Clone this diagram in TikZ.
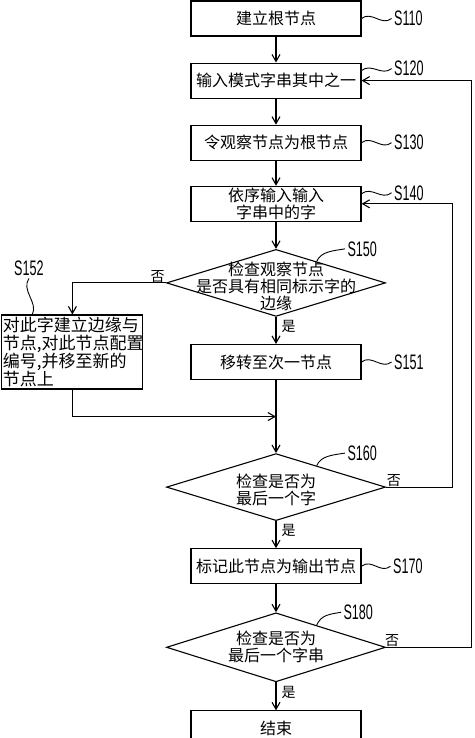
\documentclass[tikz,border=0pt]{standalone}
\usepackage{fontspec}
\setmainfont{Noto Sans CJK SC}
\newfontfamily\steplabelfont[FakeStretch=0.6]{Liberation Sans}
\usetikzlibrary{
  positioning,
  shapes.geometric,
  arrows.meta,
  calc
}

\begin{document}
\begin{tikzpicture}[
  node distance=27pt,
  line width=1.1pt,
  stepbox/.style={draw, rectangle, minimum width=170pt, minimum height=35pt, inner xsep=2pt, inner ysep=1pt, align=center, font=\fontsize{16}{17}\selectfont},
  check/.style={draw, diamond, minimum width=219pt, minimum height=67pt, inner sep=0pt},
  checktext/.style={align=center, inner sep=0pt, font=\fontsize{16}{17}\selectfont},
  steplabel/.style={inner sep=2pt, font=\fontsize{21}{21}\steplabelfont},
  tilde/.style={line width=0.9pt},
  yeslbl/.style={right=5pt, inner sep=0pt, font=\fontsize{14}{14}\selectfont},
  nolbl/.style={above, inner sep=0pt, font=\fontsize{14}{14}\selectfont},
  arrow/.style={-{Straight Barb[length=7pt, width=8pt]}}
]
\useasboundingbox (0,0) rectangle (474pt,-738pt);

% Steps
\node[stepbox] (s110) at (276pt,-18.5pt) {建立根节点};
\node[stepbox, below=26pt of s110] (s120) {输入模式字串其中之一};
\node[stepbox, below=26pt of s120] (s130) {令观察节点为根节点};
\node[stepbox, below=25pt of s130] (s140) {依序输入输入\\字串中的字};
\node[check, below=of s140, label={[checktext, yshift=-3pt]center:检查观察节点\\是否具有相同标示字的\\边缘}] (s150) {};
\node[stepbox, below=of s150] (s151) {移转至次一节点};
\node[stepbox, left=47pt of s151, yshift=10pt, minimum width=141pt, minimum height=74pt, inner xsep=1pt, text width=139pt, align=left, font=\fontsize{17}{18}\selectfont] (s152) {对此字建立边缘与\\节点,对此节点配置\\编号,并移至新的\\节点上};
\node[check, below=73pt of s151, label={[checktext, yshift=-3pt]center:检查是否为\\最后一个字}] (s160) {};
\node[stepbox, below=of s160] (s170) {标记此节点为输出节点};
\node[check, below=28pt of s170, minimum height=69pt, label={[checktext]center:检查是否为\\最后一个字串}] (s180) {};
\node[stepbox, below=28pt of s180] (finish) {结束};

% Step labels
\node[steplabel, right=30pt of s110] (l110) {S110};
\node[steplabel, right=30pt of s120, yshift=12pt] (l120) {S120};
\node[steplabel, right=30pt of s130] (l130) {S130};
\node[steplabel, right=30pt of s140, yshift=11pt] (l140) {S140};
\node[steplabel, right=69pt of s150.north] (l150) {S150};
\node[steplabel, right=30pt of s151] (l151) {S151};
\node[steplabel, above=36pt of s152, xshift=-43.5pt] (l152) {S152};
\node[steplabel, right=69pt of s160.north] (l160) {S160};
\node[steplabel, right=29pt of s170] (l170) {S170};
\node[steplabel, right=65pt of s180.north] (l180) {S180};

\draw[tilde] (s110.east) .. controls +(10pt,8pt) and +(-10pt,-8pt) .. (l110.west);
\draw[tilde] ([yshift=-8pt]s120.north east) .. controls +(10pt,8pt) and +(-10pt,-8pt) .. (l120.west);
\draw[tilde] (s130.east) .. controls +(10pt,8pt) and +(-10pt,-8pt) .. (l130.west);
\draw[tilde] ([yshift=-8pt]s140.north east) .. controls +(10pt,8pt) and +(-10pt,-8pt) .. (l140.west);
\draw[tilde] ($(s150.north)!0.37!(s150.east)$) .. controls +(4pt,10pt) and +(-12pt,-2pt) .. (l150.west);
\draw[tilde] (s151.east) .. controls +(10pt,8pt) and +(-10pt,-8pt) .. (l151.west);
\draw[tilde] (l152.south) .. controls +(-8pt,-12pt) and +(6pt,12pt) .. ($(s152.north west)+(31pt,0)$);
\draw[tilde] ($(s160.north)!0.37!(s160.east)$) .. controls +(4pt,10pt) and +(-12pt,-2pt) .. (l160.west);
\draw[tilde] (s170.east) .. controls +(10pt,8pt) and +(-10pt,-8pt) .. (l170.west);
\draw[tilde] ($(s180.north)!0.37!(s180.east)$) .. controls +(4pt,10pt) and +(-12pt,-2pt) .. (l180.west);

% Arrows
\draw[arrow] (s110) -- (s120);
\draw[arrow] (s120) -- (s130);
\draw[arrow] (s130) -- (s140);
\draw[arrow] (s140) -- (s150);
\draw[arrow] (s150) -- node[yeslbl, pos=0.35] {是} (s151);
\draw[arrow] (s150.west) -| node[nolbl, pos=0.045] {否} (s152.north);
\coordinate (merge) at ($(s151.south)!0.5!(s160.north)$);
\draw[arrow] (s152.south) |- (merge);
\draw[arrow] (s151) -- (s160);
\draw[arrow] (s160) -- node[yeslbl, pos=0.35] {是} (s170);
\draw[arrow] (s160.east) -- node[nolbl, pos=0.12] {否} ++(66pt,0) |- (s140.east);
\draw[arrow] (s170) -- (s180);
\draw[arrow] (s180) -- node[yeslbl, pos=0.35] {是} (finish);
\draw[arrow] (s180.east) -- node[nolbl, pos=0.07] {否} ++(85pt,0) |- (s120.east);

\end{tikzpicture}
\end{document}
